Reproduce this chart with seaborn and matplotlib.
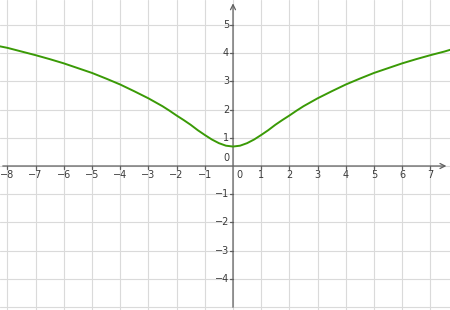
import matplotlib
matplotlib.use("Agg")
import matplotlib.pyplot as plt
import seaborn as sns
import pandas as pd
import numpy as np

# Values
x_vals = [-8.3, -8, -7.5, -7, -6.5, -6, -5.5, -5, -4.5, -4, -3.5, -3, -2.5, -2.25, -2, -1.75, -1.5,
          -1.25, -1, -0.75, -0.5, -0.25, 0,
          0.25, 0.5, 0.75, 1, 1.25, 1.5, 1.75, 2, 2.25, 2.5, 3, 3.5, 4, 4.5, 5, 5.5, 6, 6.5, 7, 7.5, 7.8]
y_vals = [4.25, 4.19, 4.06, 3.93, 3.79, 3.64, 3.47, 3.30, 3.10, 2.89, 2.65, 2.40, 2.12, 1.96, 1.79, 1.63, 1.46,
          1.27, 1.10, 0.94, 0.81, 0.72, 0.69,
          0.72, 0.81, 0.94, 1.10, 1.27, 1.46, 1.63, 1.79, 1.96, 2.12, 2.40, 2.65, 2.89, 3.10, 3.30, 3.47, 3.64, 3.79, 3.93, 4.06, 4.15]
x_ticks = [-8, -7, -6, -5, -4, -3, -2, -1, 0, 1, 2, 3, 4, 5, 6, 7]
y_ticks = [-4, -3, -2, -1, 0, 1, 2, 3, 4, 5]

sns.set_style("white")
plt.rcParams['font.family'] = ['DejaVu Sans']

fig = plt.figure(figsize=(4.5, 3.1), dpi=100)
ax = fig.add_axes([0, 0, 1, 1])
u = 28.2  # px per unit
x0, y0 = 233, 166
ax.set_xlim(-x0 / u, (450 - x0) / u)
ax.set_ylim(-(310 - y0) / u, y0 / u)
for s in ax.spines.values():
    s.set_visible(False)
ax.set_xticks([]); ax.set_yticks([])

gc = "#dadada"
for gx in range(-9, 9):
    ax.axvline(gx, color=gc, lw=0.8, zorder=0)
for gy in range(-6, 7):
    ax.axhline(gy, color=gc, lw=0.8, zorder=0)

axc = "#606060"
xl = ax.get_xlim(); yl = ax.get_ylim()
ax.annotate("", xy=(xl[1] - 0.03, 0), xytext=(xl[0], 0),
            arrowprops=dict(arrowstyle="->", color=axc, lw=0.9, mutation_scale=9), zorder=2)
ax.annotate("", xy=(0, yl[1] - 0.02), xytext=(0, yl[0]),
            arrowprops=dict(arrowstyle="->", color=axc, lw=0.9, mutation_scale=9), zorder=2)

tl = 3 / u
fs = 7
tc = "#3a3a3a"
for t in x_ticks:
    if t != 0:
        ax.plot([t, t], [0, -tl], color=axc, lw=0.9, zorder=2)
        lab = str(t).replace("-", "\u2212")
        ax.text(t, -4 / u, lab, ha="center", va="top", fontsize=fs, color=tc)
ax.text(3 / u, -4 / u, "0", ha="left", va="top", fontsize=fs, color=tc)
for t in y_ticks:
    if t != 0:
        ax.plot([0, -tl], [t, t], color=axc, lw=0.9, zorder=2)
        lab = str(t).replace("-", "\u2212")
        ax.text(-4 / u, t, lab, ha="right", va="center", fontsize=fs, color=tc)
ax.text(-4 / u, 3 / u, "0", ha="right", va="bottom", fontsize=fs, color=tc)

df = pd.DataFrame({"x": x_vals, "y": y_vals})
sns.lineplot(data=df, x="x", y="y", ax=ax, color="#3a9a06", lw=1.4, zorder=3)
ax.set_xlabel(""); ax.set_ylabel("")
ax.set_xlim(xl); ax.set_ylim(yl)

fig.savefig("out.png", dpi=100)
